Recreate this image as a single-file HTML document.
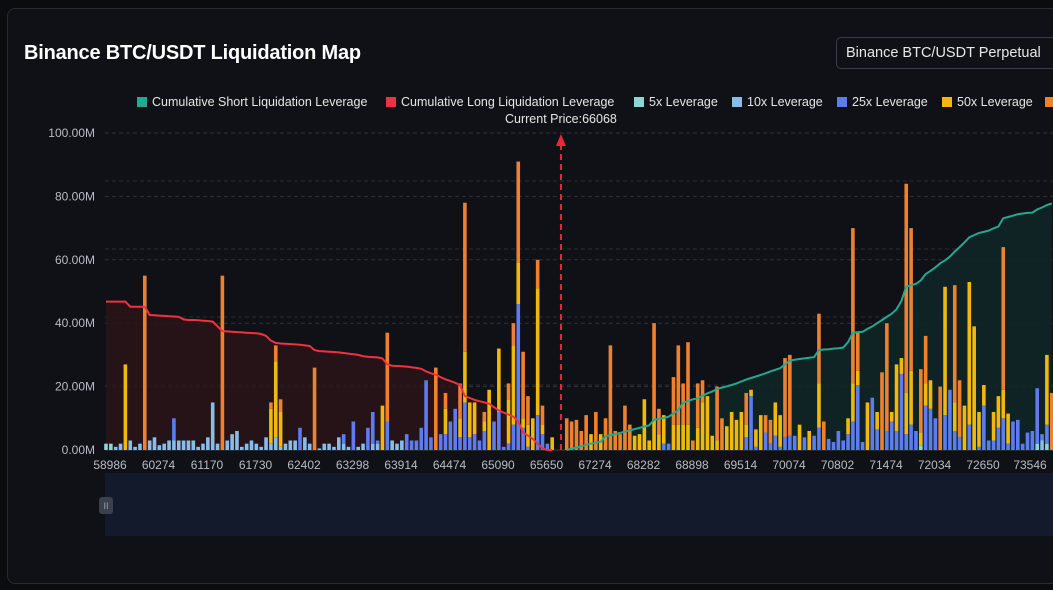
<!DOCTYPE html>
<html><head><meta charset="utf-8">
<style>
html,body{margin:0;padding:0;background:#0b0c10;width:1053px;height:590px;overflow:hidden;font-family:"Liberation Sans",sans-serif}
#card{position:absolute;left:7px;top:8px;width:1046px;height:576px;background:#0f1116;border:1px solid #262a33;border-right:none;border-radius:8px 0 0 8px;box-sizing:border-box}
#title{position:absolute;left:24px;top:42px;color:#fff;font-weight:bold;font-size:20px;letter-spacing:-0.2px}
#sel{position:absolute;left:836px;top:37px;width:217px;height:32px;border:1px solid #3a3e48;border-right:none;border-radius:5px 0 0 5px;background:#0f1116;color:#e8e8e8;font-size:14.5px;line-height:30px;padding-left:9px;box-sizing:border-box;overflow:hidden;white-space:nowrap}
.lg{position:absolute;top:95px;font-size:12.5px;color:#e6e6e6;white-space:nowrap}
.lg i{display:inline-block;width:10px;height:10px;margin-right:5px;vertical-align:-1px}
svg{position:absolute;left:0;top:0}
</style></head><body>
<div id="card"></div>
<div id="title">Binance BTC/USDT Liquidation Map</div>
<div id="sel">Binance BTC/USDT Perpetual</div>
<div class="lg" style="left:137px"><i style="background:#26a88f"></i>Cumulative Short Liquidation Leverage</div>
<div class="lg" style="left:386px"><i style="background:#f0323f"></i>Cumulative Long Liquidation Leverage</div>
<div class="lg" style="left:634px"><i style="background:#8ad8d3"></i>5x Leverage</div>
<div class="lg" style="left:732px"><i style="background:#87bde8"></i>10x Leverage</div>
<div class="lg" style="left:837px"><i style="background:#5c7cf0"></i>25x Leverage</div>
<div class="lg" style="left:942px"><i style="background:#f0b90b"></i>50x Leverage</div>
<div class="lg" style="left:1045px;width:8px;overflow:hidden"><i style="background:#ee812f"></i>100x Leverage</div>
<svg id="chart" width="1053" height="590"></svg>
<script>
const tickLabels=["58986","60274","61170","61730","62402","63298","63914","64474","65090","65650","67274","68282","68898","69514","70074","70802","71474","72034","72650","73546"];
const yTicks=[0,20,40,60,80,100];
const currentPrice="66068";
const currentIndex=93.8;
const lev5=[2,2,0,0,0,0,0,0,0,0, 0,0,0,0,0,0,0,0,0,0, 0,0,0,0,0,0,0,0,0,0, 0,0,0,0,0,0,0,0,0,0, 0,0,0,0,0,0,0,0,0,0, 0,0,0,0,0,0,0,0,0,0, 0,0,0,0,0,0,0,0,0,0, 0,0,0,0,0,0,0,0,0,0, 0,0,0,0,0,0,0,0,0,0, 0,0,0,0,0,
0,0,0,0,0,0,0,0,0,0, 0,0,0,0,0,0,0,0,0,0, 0,0,0,0,0,0,0,0,0,0, 0,0,0,0,0,0,0,0,0,0, 0,0,0,0,0,0,0,0,0,0, 0,0,0,0,0,0,0,0,0,0, 0,0,0,0,0,0,0,0,0,0, 0,0,0,1.5,0,0,0,0,0,0, 0,0,0,0,0,0,0,0,0,0, 0,0,0,0,0,0,0,2,0,2, 0];
const lev10=[0,0,1,2,0,3,1,2,0,3, 4,1.5,2,3,3,3,3,3,3,1, 2,4,15,2,0,3,5,6,1,2, 3,2,1,4,2,4,1,2,3,3, 0,4,2,0,0.5,2,2,1,4,2, 1,0,1,2,0,2,2,0,0,3, 2,3,0,0,0,0,0,0,0,0, 0,0,0,0,0,0,0,0,0,0, 0,0,0,0,0,0,0,0,0,0, 0,0,0,0,0,
0,0,0,0,0,0,0,0,0,0, 0,0,0,0,0,0,0,0,0,0, 0,0,0,0,0,0,0,0,0,0, 0,0,0,0,0,0,0,0,0,0, 0,0,0,0,0,0,0,0,0,0, 0,0,0,0,0,0,0,0,0,0, 0,0,0,0,0,0,0,0,0,0, 0,0,0,0,0,0,0,0,0,0, 0,0,0,0,0,0,0,0,0,0, 0,0,0,0,0,0,0,0,3,0, 0];
const lev25=[0,0,0,0,0,0,0,0,0,0, 0,0,0,0,7,0,0,0,0,0, 0,0,0,0,0,0,0,0,0,0, 0,0,0,0,0,0,0,0,0,0, 7,0,0,0,0,0,0,0,0,3, 0,9,0,0,7,10,1,0,9,0, 0,0,5,3,3,7,22,4,0,5, 5,9,13,4,15,4,5,3,6,0, 9,12,1,2,8,46,7,1,0,11, 5,2,0,0,0,
0,0,0,0,0,0,0,0,0,0, 0,0,0,0,0,0,0,0,0,0, 2,2,0,0,0,0,0,0,0,0, 0,0,0,0,0,0,0,4,17,1, 0,5.5,2,4.5,1,4,4.5,4.5,0,4, 0,4.5,7,0,3.5,2.5,6,3,5,9, 20.5,2.5,0,16.5,6.5,0,6,9,6,24, 5,8,6,0,14,13,10,0,11,19, 6,4,0,8,0,1,14,3,3,7, 10,2,9,9.5,2,5.5,6,17.5,2,6, 0];
const lev50=[0,0,0,0,27,0,0,0,0,0, 0,0,0,0,0,0,0,0,0,0, 0,0,0,0,0,0,0,0,0,0, 0,0,0,0,11,24,11,0,0,0, 0,0,0,0,0,0,0,0,0,0, 0,0,0,0,0,0,0,14,0,0, 0,0,0,0,0,0,0,0,0,0, 8,0,0,6,16,11,10,0,3,19, 0,20,0,14,25,13,3,7,10,40, 3,0,4,0,0,
0,0,0,0,0,5,0,5,0,0, 0,0,0,0,4.5,5,16,3,10,5, 9,0,8,8,8,8,0,7,15,17, 4.5,3,0,7.5,12,9.5,12,4,2,5.5, 11,0,0,10.5,10,0,0,0,8,0, 6,0,14,0,0,0,0,0,5,12, 4.5,0,15,0,5.5,0,0,3,21,5, 13,17,0,4,7,9,0,0,40.5,0, 9,0,14,45,39,11,6.5,0,9,10, 9,9.5,0,0,0,0,0,0,0,22, 0];
const lev100=[0,0,0,0,0,0,0,0,55,0, 0,0,0,0,0,0,0,0,0,0, 0,0,0,0,55,0,0,0,0,0, 0,0,0,0,2,5,4,0,0,0, 0,0,0,26,0,0,0,0,0,0, 0,0,0,0,0,0,0,0,28,0, 0,0,0,0,0,0,0,0,26,0, 5,0,0,11,47,0,0,0,3,0, 0,0,0,5,7,32,21,9,0,9, 6,0,0,0,0,
10,9,9.5,6,11,0,12,0,10,33, 6,5,14,8,0,0,0,0,30,8, 0,0,15,25,13,26,3,14,7,0, 0,17,10,0,0,0,0,10,0,0, 0,5.5,7.5,0,0,25,25.5,0,0,0, 0,0,22,9,0,0,0,0,0,49, 12,0,0,0,0,24.5,34,0,0,0, 66,45,0,20,15,0,0,20,0,0, 37,18,0,0,0,0,0,0,0,0, 45,0,0,0,0,0,0,0,0,0, 18];
const longCum=[46.8,46.8,46.8,46.8,46.8,45.2,45.2,45.2,45.2,42.6,42.5,42.4,42.3,42.2,42.1,42,41.2,41,41,40.9,40.8,40.7,40.5,39,37.5,37.4,37.3,37.2,37.1,37,36.9,36.8,36.6,36,34.5,33.8,33.6,33.5,33.4,33.3,33.2,33,32.8,31.5,31.2,31.1,31,30.9,30.8,30.6,30.4,30.2,30,29.6,29.4,29.3,29.2,28.9,27,26.6,26.5,26.4,26.3,26.1,25.9,25.6,24.8,24.2,23.8,23,22.3,21.8,21.2,20.5,17,16.4,15.8,15.4,15,14.6,13.5,12.5,11.8,11.2,10.5,9,5.5,4.5,3.5,2,0.5,0,0];
const longStart=0;
const shortCum=[0,0.4,0.8,1.2,1.6,2,2.3,2.6,4.4,4.7,5,5.4,5.8,6.2,6.6,7,7.4,7.8,9.5,9.8,10.1,10.5,11.5,12.6,14.9,15.5,16,16.3,17.1,17.9,18.5,19.2,19.7,20.1,20.5,21,21.6,22.2,22.7,23.2,23.7,24.2,24.8,25.3,25.8,27,28.2,28.5,28.7,28.9,29.1,29.3,31.5,31.7,31.8,32,32.1,32.3,34,37,37.2,37.3,38.2,39,40,41,42,43,44.4,47,51.5,52,52.4,53.5,55.5,56.5,57.6,58.9,59.8,61,62.6,64,65.5,67.1,67.8,68.5,68.8,69.2,69.9,70.5,73.1,73.5,73.9,74.4,74.6,74.8,74.9,75.9,76.5,77.3,77.8];
const shortStart=95;

const NS="http://www.w3.org/2000/svg";
const svg=document.getElementById('chart');
const X0=106,STEP=4.85,BW=3.6,Y0=450,PXM=3.17;
const xs=i=>X0+i*STEP;
const ys=v=>Y0-v*PXM;
function mk(tag,attrs,parent){const e=document.createElementNS(NS,tag);for(const k in attrs)e.setAttribute(k,attrs[k]);(parent||svg).appendChild(e);return e;}
const defs=mk('defs',{});const cp=mk('clipPath',{id:'pc'},defs);mk('rect',{x:100,y:120,width:953,height:340},cp);
[181,249,317,385].forEach(g=>{const l=mk('line',{x1:105,x2:1053,y1:g,y2:g,stroke:'#2a2d35','stroke-dasharray':'4 3','stroke-width':1});

});
yTicks.forEach(v=>{const l=mk('line',{x1:105,x2:1053,y1:ys(v),y2:ys(v),stroke:v===0?'#3a3d45':'#30333b','stroke-dasharray':v===0?'':'4 3','stroke-width':1});


const t=mk('text',{x:95,y:ys(v)+4,'text-anchor':'end',fill:'#b8bcc4','font-size':12});t.textContent=v.toFixed(2)+'M';

});
const g=mk('g',{'clip-path':'url(#pc)'});
function linePts(arr,start){return arr.map((v,j)=>xs(start+j).toFixed(1)+','+ys(v).toFixed(1));}
const lp=linePts(longCum,longStart);
const la=mk('polygon',{points:xs(longStart)+','+Y0+' '+lp.join(' ')+' '+xs(longStart+longCum.length-1)+','+Y0,fill:'#2a1419',opacity:0.85},g);


const sp=linePts(shortCum,shortStart);
const sa=mk('polygon',{points:xs(shortStart)+','+Y0+' '+sp.join(' ')+' '+xs(shortStart+shortCum.length-1)+','+Y0,fill:'#0f2626',opacity:0.9},g);


const series=[[lev5,'#8ad8d3'],[lev10,'#87bde8'],[lev25,'#5c7cf0'],[lev50,'#f0b90b'],[lev100,'#ee812f']];
for(let i=0;i<lev5.length;i++){let base=0;series.forEach(([arr,col])=>{const v=arr[i];if(v>0){const r=mk('rect',{x:(xs(i)-BW/2).toFixed(2),y:ys(base+v).toFixed(2),width:BW,height:(v*PXM).toFixed(2),fill:col},g);

base+=v;}});}
const ll=mk('polyline',{points:lp.join(' '),fill:'none',stroke:'#f0323f','stroke-width':2},g);


const sl=mk('polyline',{points:sp.join(' '),fill:'none',stroke:'#26a88f','stroke-width':2},g);


const cx=xs(currentIndex);
const cl=mk('line',{x1:cx,x2:cx,y1:Y0,y2:142,stroke:'#e8283a','stroke-width':2,'stroke-dasharray':'6 4'});


const ca=mk('polygon',{points:(cx-5)+',146 '+cx+',134 '+(cx+5)+',146',fill:'#e8283a'});


const ct=mk('text',{x:cx,y:123,'text-anchor':'middle',fill:'#e6e6e6','font-size':12.5});ct.textContent='Current Price:'+currentPrice;


tickLabels.forEach((lab,k)=>{const t=mk('text',{x:Math.min(xs(k*10)+4,1030),y:469,'text-anchor':'middle',fill:'#b8bcc4','font-size':12});t.textContent=lab;

});
const sb=mk('rect',{x:105,y:473,width:948,height:63,fill:'#131a2b'});


const hd=mk('rect',{x:99,y:497,width:14,height:17,rx:3,fill:'#3a404c'});


const ht=mk('text',{x:106,y:509,'text-anchor':'middle',fill:'#9aa0aa','font-size':9});ht.textContent='II';


</script>
</body></html>
